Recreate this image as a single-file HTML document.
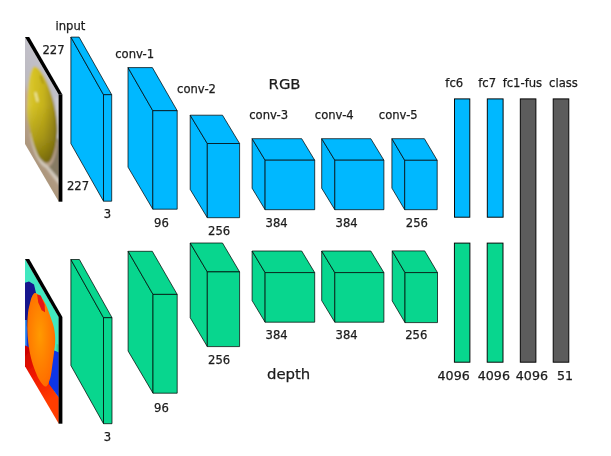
<!DOCTYPE html>
<html><head><meta charset="utf-8"><title>RGB-D network</title>
<style>html,body{margin:0;padding:0;background:#fff}svg{display:block}text{font-family:"DejaVu Sans","Liberation Sans",sans-serif;fill:#1c1c1c;stroke:#1c1c1c;stroke-width:0.25px}</style>
</head><body>
<svg width="611" height="456" viewBox="0 0 611 456">
<rect width="611" height="456" fill="#fff"/>
<defs>
<clipPath id="cpA"><polygon points="25,37 58.8,94.9 58.8,201.7 25,144"/></clipPath>
<clipPath id="cpB"><polygon points="25,259 58.8,317.3 58.8,423.8 25,366.3"/></clipPath>
<filter id="bl" x="-20%" y="-20%" width="140%" height="140%"><feGaussianBlur stdDeviation="0.9"/></filter>
<filter id="bl2" x="-20%" y="-20%" width="140%" height="140%"><feGaussianBlur stdDeviation="0.5"/></filter>
<linearGradient id="bg1" x1="0" y1="0" x2="0" y2="1">
<stop offset="0" stop-color="#c2c1ca"/><stop offset="0.42" stop-color="#bcb9c0"/><stop offset="0.52" stop-color="#c2a698"/><stop offset="0.8" stop-color="#b49e86"/><stop offset="1" stop-color="#aa947a"/>
</linearGradient>
<linearGradient id="ap" x1="0" y1="0" x2="1" y2="0">
<stop offset="0" stop-color="#dccb4c"/><stop offset="0.2" stop-color="#d8c426"/><stop offset="0.55" stop-color="#c8b41c"/><stop offset="0.85" stop-color="#a6941a"/><stop offset="1" stop-color="#8a7b1c"/>
</linearGradient>
<linearGradient id="apv" x1="0" y1="0" x2="0" y2="1">
<stop offset="0" stop-color="#504600" stop-opacity="0"/><stop offset="0.4" stop-color="#504600" stop-opacity="0.02"/><stop offset="0.75" stop-color="#504600" stop-opacity="0.3"/><stop offset="1" stop-color="#453c00" stop-opacity="0.6"/>
</linearGradient>
<linearGradient id="red1" gradientUnits="userSpaceOnUse" x1="28" y1="350" x2="58" y2="395">
<stop offset="0" stop-color="#cc0400"/><stop offset="0.45" stop-color="#f01800"/><stop offset="1" stop-color="#ff3c00"/>
</linearGradient>
<radialGradient id="or1" cx="0.45" cy="0.45" r="0.6">
<stop offset="0" stop-color="#ff9a00"/><stop offset="1" stop-color="#ff6a00"/>
</radialGradient>
</defs>
<g clip-path="url(#cpA)">
<g filter="url(#bl)">
<g transform="matrix(1,1.715,0,1,25,37)">
<rect x="-3" y="-3" width="40" height="113" fill="url(#bg1)"/>
</g>
<path d="M40,158 C43,166 46,167 48,167 C54,166 57,150 58,136 L60,136 L60,180 L50,172 Z" fill="#7c735c" opacity="0.85"/>
<path d="M30,133 C32,148 38,164 46,168 L60,186 L60,180 L48,166 C40,162 35,148 32,133 Z" fill="#d8d0c4" opacity="0.9"/>
<path d="M56,96 L60,100 L60,140 L57,138 Z" fill="#d4d4d8" opacity="0.8"/>
<path d="M33.2,67.2 C34.4,65.8 35.7,66.8 37.0,67.6 C38.3,68.4 39.5,69.6 41.0,71.8 C42.5,74.0 44.6,77.5 46.3,81.0 C47.9,84.5 49.6,89.0 50.9,92.9 C52.2,96.9 53.2,100.2 54.2,104.7 C55.2,109.2 56.3,115.3 56.8,120.0 C57.3,124.7 57.5,128.7 57.3,133.0 C57.1,137.3 56.4,142.1 55.6,146.0 C54.8,149.9 53.6,153.7 52.6,156.3 C51.6,158.9 50.5,160.4 49.5,161.5 C48.5,162.6 47.4,162.6 46.3,162.6 C45.2,162.6 44.4,162.6 43.0,161.3 C41.6,160.0 39.4,158.0 37.8,154.9 C36.2,151.8 34.5,147.2 33.2,143.0 C31.9,138.8 31.1,134.7 30.0,130.0 C28.9,125.3 27.4,120.1 26.9,115.0 C26.4,109.9 27.0,104.3 27.2,99.5 C27.4,94.7 27.8,90.2 28.2,86.3 C28.6,82.3 29.1,79.0 29.9,75.8 C30.7,72.6 32.0,68.6 33.2,67.2 Z" fill="url(#ap)"/>
<path d="M33.2,67.2 C34.4,65.8 35.7,66.8 37.0,67.6 C38.3,68.4 39.5,69.6 41.0,71.8 C42.5,74.0 44.6,77.5 46.3,81.0 C47.9,84.5 49.6,89.0 50.9,92.9 C52.2,96.9 53.2,100.2 54.2,104.7 C55.2,109.2 56.3,115.3 56.8,120.0 C57.3,124.7 57.5,128.7 57.3,133.0 C57.1,137.3 56.4,142.1 55.6,146.0 C54.8,149.9 53.6,153.7 52.6,156.3 C51.6,158.9 50.5,160.4 49.5,161.5 C48.5,162.6 47.4,162.6 46.3,162.6 C45.2,162.6 44.4,162.6 43.0,161.3 C41.6,160.0 39.4,158.0 37.8,154.9 C36.2,151.8 34.5,147.2 33.2,143.0 C31.9,138.8 31.1,134.7 30.0,130.0 C28.9,125.3 27.4,120.1 26.9,115.0 C26.4,109.9 27.0,104.3 27.2,99.5 C27.4,94.7 27.8,90.2 28.2,86.3 C28.6,82.3 29.1,79.0 29.9,75.8 C30.7,72.6 32.0,68.6 33.2,67.2 Z" fill="url(#apv)"/>
<path d="M35.5,93 L37.5,101" stroke="#efe9a0" stroke-width="2" stroke-linecap="round" fill="none"/>
<path d="M40.5,76 C41.5,79 42.3,81 43,83.5" stroke="#8a7a10" stroke-width="1" fill="none"/>
</g>
</g>
<polygon points="25,37 29.2,37 62.4,94.4 58.6,94.4" fill="#000"/>
<rect x="58.6" y="94.4" width="3.8" height="107.3" fill="#000"/>
<g clip-path="url(#cpB)">
<g filter="url(#bl2)">
<rect x="20" y="250" width="45" height="180" fill="#40e8c0"/>
<path d="M24,300 L40,300 L40,352 L24,348 Z" fill="#1232cc"/>
<path d="M24,283 L29,281.5 L34,284.5 L36,293 L32,300 L30,312 L29,330 L24,322 Z" fill="#12128e"/>
<rect x="24" y="320" width="2.6" height="26" fill="#3c98f4"/>
<path d="M24,344.9 L40,352 L50,380 L54.5,391.4 L60,399 L60,430 L24,370 Z" fill="url(#red1)"/>
<path d="M54,350.5 L60,352.5 L60,399 L54.5,391.4 L49,384 L49,369 Z" fill="#0a34e6"/>
<path d="M56.5,344 L60,345 L60,353 L56.5,351 Z" fill="#38d0a0"/>
<path d="M35.0,293.0 C36.3,292.9 38.3,294.3 40.0,296.0 C41.7,297.7 43.3,299.8 45.0,303.0 C46.7,306.2 48.5,311.3 50.0,315.5 C51.5,319.7 53.1,323.8 54.0,328.0 C54.9,332.2 55.2,336.3 55.2,340.5 C55.2,344.7 54.5,348.8 54.0,353.0 C53.5,357.2 52.9,361.3 52.3,365.5 C51.7,369.7 51.3,374.5 50.3,378.0 C49.2,381.5 47.7,386.0 46.0,386.5 C44.3,387.0 41.8,383.7 40.0,381.0 C38.2,378.3 36.5,374.3 35.0,370.5 C33.5,366.7 32.1,362.6 31.0,358.0 C29.9,353.4 28.9,348.0 28.3,343.0 C27.7,338.0 27.4,333.0 27.3,328.0 C27.2,323.0 27.6,317.2 28.0,313.0 C28.4,308.8 29.3,305.8 30.0,303.0 C30.7,300.2 31.2,298.2 32.0,296.5 C32.8,294.8 33.7,293.1 35.0,293.0 Z" fill="url(#or1)"/>
<path d="M37.1,294.5 L40.7,295.5 L44.6,304.4 L45.0,312.3 L41.7,310.3 L38.3,302.4 Z" fill="#e61414"/>
</g>
</g>
<polygon points="25,259 29.2,259 62.4,317 58.6,317" fill="#000"/>
<rect x="58.6" y="317" width="3.8" height="106.7" fill="#000"/>

<g stroke="#000" stroke-width="0.72" stroke-linejoin="round">
<polygon points="70.9,37.1 103.5,94.7 103.5,201.2 70.9,143.6" fill="#00B8FF"/>
<polygon points="70.9,37.1 79.1,37.1 111.7,94.7 103.5,94.7" fill="#00B8FF"/>
<polygon points="103.5,94.7 111.7,94.7 111.7,201.2 103.5,201.2" fill="#00B8FF"/>
</g>
<g stroke="#000" stroke-width="0.72" stroke-linejoin="round">
<polygon points="128.0,67.6 152.8,110.7 152.8,209.2 128.0,167.1" fill="#00B8FF"/>
<polygon points="128.0,67.6 152.4,67.6 177.2,110.7 152.8,110.7" fill="#00B8FF"/>
<polygon points="152.8,110.7 177.2,110.7 177.2,209.2 152.8,209.2" fill="#00B8FF"/>
</g>
<g stroke="#000" stroke-width="0.72" stroke-linejoin="round">
<polygon points="190.2,115.2 207.3,143.5 207.3,217.7 190.2,189.4" fill="#00B8FF"/>
<polygon points="190.2,115.2 222.5,115.2 239.6,143.5 207.3,143.5" fill="#00B8FF"/>
<polygon points="207.3,143.5 239.6,143.5 239.6,217.7 207.3,217.7" fill="#00B8FF"/>
</g>
<g stroke="#000" stroke-width="0.72" stroke-linejoin="round">
<polygon points="252.1,138.7 265.1,160.2 265.1,209.7 252.1,188.2" fill="#00B8FF"/>
<polygon points="252.1,138.7 301.7,138.7 314.7,160.2 265.1,160.2" fill="#00B8FF"/>
<polygon points="265.1,160.2 314.7,160.2 314.7,209.7 265.1,209.7" fill="#00B8FF"/>
</g>
<g stroke="#000" stroke-width="0.72" stroke-linejoin="round">
<polygon points="321.7,138.7 334.8,160.2 334.8,209.7 321.7,188.2" fill="#00B8FF"/>
<polygon points="321.7,138.7 370.8,138.7 383.9,160.2 334.8,160.2" fill="#00B8FF"/>
<polygon points="334.8,160.2 383.9,160.2 383.9,209.7 334.8,209.7" fill="#00B8FF"/>
</g>
<g stroke="#000" stroke-width="0.72" stroke-linejoin="round">
<polygon points="391.9,138.7 404.7,160.3 404.7,209.7 391.9,188.1" fill="#00B8FF"/>
<polygon points="391.9,138.7 424.4,138.7 437.2,160.3 404.7,160.3" fill="#00B8FF"/>
<polygon points="404.7,160.3 437.2,160.3 437.2,209.7 404.7,209.7" fill="#00B8FF"/>
</g>
<rect x="454.5" y="98.9" width="15.3" height="118.3" fill="#00B8FF" stroke="#000" stroke-width="0.95"/>
<rect x="487.3" y="98.9" width="15.8" height="118.3" fill="#00B8FF" stroke="#000" stroke-width="0.95"/>
<rect x="520.3" y="98.9" width="15.6" height="263.3" fill="#5C5C5C" stroke="#000" stroke-width="0.95"/>
<rect x="553.2" y="98.9" width="15.6" height="263.3" fill="#5C5C5C" stroke="#000" stroke-width="0.95"/>
<g stroke="#000" stroke-width="0.72" stroke-linejoin="round">
<polygon points="70.9,259.5 103.5,317.7 103.5,423.7 70.9,365.5" fill="#08D68E"/>
<polygon points="70.9,259.5 79.4,259.5 112.0,317.7 103.5,317.7" fill="#08D68E"/>
<polygon points="103.5,317.7 112.0,317.7 112.0,423.7 103.5,423.7" fill="#08D68E"/>
</g>
<g stroke="#000" stroke-width="0.72" stroke-linejoin="round">
<polygon points="128.1,251.3 153.0,294.4 153.0,393.2 128.1,351.0" fill="#08D68E"/>
<polygon points="128.1,251.3 152.3,251.3 177.2,294.4 153.0,294.4" fill="#08D68E"/>
<polygon points="153.0,294.4 177.2,294.4 177.2,393.2 153.0,393.2" fill="#08D68E"/>
</g>
<g stroke="#000" stroke-width="0.72" stroke-linejoin="round">
<polygon points="190.2,243.0 207.3,271.9 207.3,346.6 190.2,317.7" fill="#08D68E"/>
<polygon points="190.2,243.0 222.5,243.0 239.6,271.9 207.3,271.9" fill="#08D68E"/>
<polygon points="207.3,271.9 239.6,271.9 239.6,346.6 207.3,346.6" fill="#08D68E"/>
</g>
<g stroke="#000" stroke-width="0.72" stroke-linejoin="round">
<polygon points="252.1,251.0 265.1,272.6 265.1,322.2 252.1,300.6" fill="#08D68E"/>
<polygon points="252.1,251.0 301.7,251.0 314.7,272.6 265.1,272.6" fill="#08D68E"/>
<polygon points="265.1,272.6 314.7,272.6 314.7,322.2 265.1,322.2" fill="#08D68E"/>
</g>
<g stroke="#000" stroke-width="0.72" stroke-linejoin="round">
<polygon points="321.7,251.0 334.8,272.6 334.8,322.2 321.7,300.6" fill="#08D68E"/>
<polygon points="321.7,251.0 370.8,251.0 383.9,272.6 334.8,272.6" fill="#08D68E"/>
<polygon points="334.8,272.6 383.9,272.6 383.9,322.2 334.8,322.2" fill="#08D68E"/>
</g>
<g stroke="#000" stroke-width="0.72" stroke-linejoin="round">
<polygon points="392.2,250.9 405.0,272.6 405.0,322.6 392.2,300.9" fill="#08D68E"/>
<polygon points="392.2,250.9 424.7,250.9 437.5,272.6 405.0,272.6" fill="#08D68E"/>
<polygon points="405.0,272.6 437.5,272.6 437.5,322.6 405.0,322.6" fill="#08D68E"/>
</g>
<rect x="454.4" y="243.1" width="15.5" height="119.1" fill="#08D68E" stroke="#000" stroke-width="0.95"/>
<rect x="487.2" y="243.1" width="15.8" height="119.1" fill="#08D68E" stroke="#000" stroke-width="0.95"/>
<text transform="translate(55.45,29.6)" font-size="11.6">input</text>
<text transform="translate(42.45,54.1)" font-size="11.6">227</text>
<text transform="translate(66.90,190.4)" font-size="11.6">227</text>
<text transform="translate(103.85,218.3)" font-size="11.6">3</text>
<text transform="translate(115.20,57.5)" font-size="11.6">conv-1</text>
<text transform="translate(177.05,93.1)" font-size="11.6">conv-2</text>
<text transform="translate(154.05,227.0)" font-size="11.6">96</text>
<text transform="translate(208.00,234.5)" font-size="11.6">256</text>
<text transform="translate(249.20,119.2)" font-size="11.6">conv-3</text>
<text transform="translate(314.80,119.4)" font-size="11.6">conv-4</text>
<text transform="translate(378.80,119.4)" font-size="11.6">conv-5</text>
<text transform="translate(265.50,227.0)" font-size="11.6">384</text>
<text transform="translate(335.60,227.0)" font-size="11.6">384</text>
<text transform="translate(405.80,227.0)" font-size="11.6">256</text>
<text transform="translate(445.35,86.8)" font-size="11.6">fc6</text>
<text transform="translate(478.25,86.9)" font-size="11.6">fc7</text>
<text transform="translate(502.65,86.9)" font-size="11.6">fc1-fus</text>
<text transform="translate(549.05,86.9)" font-size="11.6">class</text>
<text transform="translate(103.70,440.5)" font-size="11.6">3</text>
<text transform="translate(154.05,411.5)" font-size="11.6">96</text>
<text transform="translate(208.00,363.9)" font-size="11.6">256</text>
<text transform="translate(265.50,339.2)" font-size="11.6">384</text>
<text transform="translate(335.60,339.2)" font-size="11.6">384</text>
<text transform="translate(405.20,338.9)" font-size="11.6">256</text>
<text transform="translate(437.58,380.0) scale(1.09,1)" font-size="11.6">4096</text>
<text transform="translate(477.78,380.0) scale(1.09,1)" font-size="11.6">4096</text>
<text transform="translate(515.83,380.0) scale(1.09,1)" font-size="11.6">4096</text>
<text transform="translate(556.89,380.0) scale(1.09,1)" font-size="11.6">51</text>
<text transform="translate(268.62,88.8)" font-size="14.8">RGB</text>
<text transform="translate(266.94,378.6)" font-size="14.9">depth</text>
</svg>
</body></html>
